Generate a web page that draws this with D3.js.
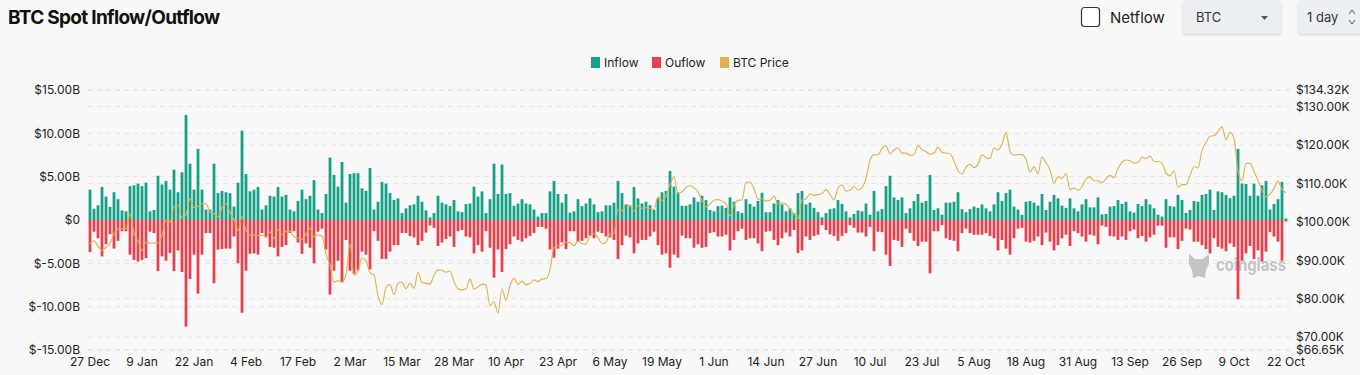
<!DOCTYPE html>
<html>
<head>
<meta charset="utf-8">
<script src="https://cdn.jsdelivr.net/npm/d3@7"></script>
<style>
  body { margin: 0; background: #f8f8f8; font-family: Inter, "Noto Sans", sans-serif; }
  svg { display: block; }
</style>
</head>
<body>
<svg width="1360" height="375"></svg>
<script>
// daily values, 27 Dec 2024 .. 22 Oct 2025
const dates = d3.timeDay.range(new Date(2024, 11, 27), new Date(2025, 9, 23));

const inflow = [
  3.5, 1.3, 1.7, 3.8, 2.7, 1.5, 3.2, 2.4, 1.1, 1.0, 3.9, 4.0, 4.2, 3.9, 4.3, 1.0, 1.15, 5.1, 4.1, 4.5,
  3.5, 5.8, 3.2, 5.5, 12.1, 6.5, 3.5, 8.2, 3.5, 1.2, 1.2, 6.5, 3.1, 3.35, 3.2, 3.1, 1.55, 4.3, 10.3, 5.3,
  3.3, 3.5, 3.8, 1.2, 1.7, 2.8, 2.7, 3.8, 2.7, 2.9, 1.2, 1.0, 2.2, 3.5, 2.4, 2.8, 4.6, 1.2, 0.8, 3.0,
  7.2, 5.2, 3.85, 6.7, 2.0, 5.3, 5.4, 5.4, 3.65, 3.35, 6.0, 1.2, 2.1, 4.4, 4.2, 3.1, 2.3, 2.5, 0.8, 1.35,
  1.7, 1.8, 2.8, 2.1, 1.1, 0.3, 0.8, 2.8, 2.0, 1.8, 1.6, 2.3, 1.0, 0.9, 1.85, 1.9, 3.85, 2.7, 3.3, 0.8,
  2.4, 6.5, 3.0, 6.4, 3.0, 3.1, 1.65, 1.9, 2.4, 1.9, 1.8, 1.2, 0.4, 0.8, 0.8, 3.3, 4.5, 3.0, 2.0, 3.0,
  0.85, 1.0, 2.4, 1.6, 1.9, 2.5, 1.8, 0.9, 1.0, 1.7, 1.7, 2.0, 4.5, 3.1, 1.8, 1.7, 3.8, 2.5, 1.9, 2.1,
  1.7, 1.15, 2.5, 3.2, 3.35, 5.65, 3.85, 3.2, 1.65, 1.65, 1.8, 2.6, 2.1, 2.8, 2.3, 1.15, 1.0, 1.6, 1.65, 1.4,
  2.6, 2.1, 1.0, 0.8, 2.4, 1.85, 1.55, 2.2, 3.15, 0.9, 0.9, 1.9, 2.3, 1.8, 1.0, 1.35, 0.8, 3.1, 3.35, 1.8,
  2.0, 1.4, 0.9, 0.3, 0.8, 1.25, 1.35, 2.3, 1.85, 1.0, 0.3, 0.7, 1.1, 1.0, 1.9, 0.6, 3.35, 1.0, 1.25, 3.9,
  5.1, 2.6, 2.3, 2.6, 0.8, 1.35, 2.2, 3.0, 2.0, 2.2, 5.2, 1.15, 1.35, 0.6, 2.0, 2.0, 2.1, 3.2, 1.25, 0.9,
  1.25, 1.55, 1.4, 1.8, 1.35, 1.0, 1.8, 3.2, 2.2, 3.1, 3.5, 1.55, 1.2, 0.6, 2.1, 2.2, 2.0, 1.65, 3.0, 1.15,
  2.1, 2.9, 2.5, 1.65, 1.4, 2.5, 1.35, 1.0, 1.8, 2.4, 1.45, 1.45, 2.6, 0.65, 0.7, 1.55, 1.6, 2.3, 1.85, 2.1,
  1.0, 0.85, 1.85, 1.6, 2.4, 1.8, 1.35, 0.6, 0.4, 2.4, 1.6, 1.55, 2.9, 2.3, 0.8, 1.15, 2.2, 2.1, 2.9, 3.0,
  3.5, 1.15, 3.3, 3.2, 2.9, 2.5, 2.8, 8.2, 4.2, 4.15, 2.8, 4.2, 2.8, 4.0, 4.5, 1.2, 1.85, 2.4, 4.4, 0.15
];

const outflow = [
  3.7, 1.35, 2.1, 4.2, 2.8, 1.65, 3.3, 2.4, 1.3, 1.3, 4.0, 4.6, 4.8, 4.6, 4.4, 1.35, 1.5, 5.9, 4.2, 4.7,
  3.8, 5.9, 3.5, 6.0, 12.3, 6.8, 4.0, 8.5, 4.0, 1.5, 1.5, 7.3, 3.4, 3.35, 3.3, 3.3, 1.9, 5.0, 10.7, 5.85,
  3.9, 3.85, 4.0, 1.5, 2.0, 3.1, 3.2, 4.2, 3.1, 2.9, 1.5, 1.3, 2.6, 3.9, 2.7, 3.2, 5.0, 1.35, 1.0, 3.4,
  8.6, 5.85, 4.7, 7.2, 2.3, 5.85, 6.2, 5.8, 3.65, 4.0, 5.7, 1.3, 2.4, 4.5, 4.5, 3.65, 2.9, 2.9, 1.5, 1.5,
  1.85, 2.0, 2.9, 2.4, 1.45, 0.65, 0.9, 3.0, 2.6, 2.2, 1.9, 3.1, 1.3, 1.15, 1.9, 2.0, 3.85, 2.9, 3.65, 1.3,
  3.2, 6.65, 3.4, 6.0, 3.35, 2.8, 1.9, 2.3, 2.5, 2.1, 1.85, 1.5, 0.8, 0.8, 1.0, 3.4, 4.35, 3.3, 2.6, 3.35,
  1.3, 1.3, 2.5, 2.4, 2.1, 1.8, 2.1, 1.35, 1.5, 1.9, 2.0, 2.3, 4.5, 2.9, 1.8, 2.0, 3.85, 2.7, 2.3, 2.3,
  1.9, 1.35, 2.9, 4.0, 3.85, 5.5, 4.0, 4.35, 1.8, 2.1, 2.1, 3.2, 2.8, 3.2, 3.1, 1.5, 1.4, 1.9, 1.9, 1.7,
  3.5, 2.3, 1.3, 1.0, 2.3, 2.1, 2.1, 2.7, 3.6, 1.35, 1.3, 2.3, 2.9, 2.1, 1.45, 1.9, 1.15, 3.8, 3.5, 1.9,
  2.3, 1.85, 1.7, 0.6, 1.15, 1.65, 1.85, 2.4, 1.85, 1.5, 0.6, 0.9, 1.45, 1.45, 1.9, 0.8, 3.6, 1.35, 1.4, 4.0,
  5.3, 2.3, 2.4, 3.1, 1.0, 1.5, 2.4, 3.0, 2.5, 2.5, 6.15, 1.3, 1.3, 0.6, 2.1, 2.3, 2.4, 3.6, 1.5, 1.0,
  1.5, 1.7, 1.7, 1.7, 1.5, 1.85, 2.1, 3.5, 2.3, 3.3, 4.0, 2.1, 1.0, 0.9, 2.5, 2.6, 2.4, 1.9, 2.9, 1.45,
  2.5, 3.5, 2.9, 2.1, 1.7, 3.0, 1.3, 1.5, 1.9, 2.5, 1.7, 1.8, 2.8, 0.65, 0.8, 1.85, 1.9, 2.3, 1.9, 2.3,
  1.3, 1.1, 2.1, 1.85, 2.5, 2.0, 1.7, 0.65, 0.65, 3.2, 2.0, 2.0, 3.35, 2.4, 1.0, 1.1, 2.5, 2.5, 2.9, 3.35,
  3.85, 2.1, 3.1, 3.3, 3.6, 2.7, 3.1, 9.15, 4.7, 3.85, 3.0, 4.5, 3.5, 4.8, 3.65, 1.4, 1.9, 2.5, 4.7, 0.15
];

const price = [
  94.2, 95.1, 93.7, 92.6, 93.4,
  94.4, 96.9, 98.1, 98.2, 98.3, 102.1, 96.9, 95.0, 92.5, 94.7, 94.5, 94.5, 94.5, 96.5, 100.5, 99.9, 104.1, 104.4, 101.1, 102.0,
  106.1, 103.7, 104.0, 104.7, 104.7, 102.6, 102.1, 101.3, 103.7, 104.7, 102.4,
  100.6, 97.7, 101.4, 97.9, 96.6, 96.6, 96.5, 96.5, 96.1, 97.4, 95.7, 98.0, 96.6, 97.5, 97.6, 96.1, 95.8, 95.5, 96.6, 98.3,
  96.1, 96.6, 96.3, 91.6, 88.7, 84.3, 84.7, 84.4,
  86.1, 94.3, 86.1, 87.2, 90.6, 89.9, 86.7, 86.2, 80.7, 78.5, 82.9, 83.7, 81.1, 84.0, 84.3, 82.6, 84.1, 82.7, 86.9, 84.2,
  84.0, 83.8, 86.1, 87.5, 87.4, 86.9, 87.2, 84.4, 82.6, 82.3, 82.5,
  85.1, 82.5, 83.1, 83.8, 83.5, 78.2, 79.2, 76.3, 82.6, 79.6, 83.4, 85.3, 83.7, 84.5, 83.6, 84.0, 84.9, 84.5, 85.1, 85.2,
  87.5, 93.4, 93.7, 93.9, 94.7, 94.6, 93.8, 95.0, 94.3, 94.2,
  96.5, 96.9, 95.9, 94.3, 94.7, 96.8, 97.0, 103.2, 102.9, 104.6, 104.1, 102.8, 104.2, 103.5, 103.7, 103.5, 103.2, 106.5, 105.6, 106.8,
  109.7, 111.7, 107.3, 107.8, 109.0, 109.4, 108.9, 107.8, 105.6, 103.9, 104.6,
  105.7, 105.8, 105.4, 104.7, 101.5, 104.4, 105.6, 105.7, 110.3, 110.3, 108.7, 105.9, 106.0, 105.4, 105.6, 106.8, 104.6, 104.9, 104.6, 103.3,
  102.1, 100.9, 105.6, 106.0, 107.3, 106.9, 107.1, 107.3, 108.4, 107.1,
  105.7, 108.8, 109.6, 108.0, 108.2, 109.2, 108.3, 108.9, 111.3, 116.0, 117.5, 117.4, 119.1, 119.8, 117.7, 118.7, 119.3, 117.9, 117.9, 117.3,
  117.4, 119.9, 118.8, 118.3, 117.6, 117.9, 119.4, 118.1, 117.9, 117.8, 115.8,
  113.3, 112.5, 114.2, 115.0, 114.1, 115.0, 117.5, 116.7, 116.5, 119.3, 118.7, 120.2, 123.3, 118.4, 117.4, 117.5, 117.5, 116.3, 112.9, 114.3,
  112.5, 116.9, 115.4, 113.5, 110.1, 111.8, 111.3, 112.6, 108.4, 108.8, 108.2,
  109.2, 111.2, 111.7, 110.7, 110.7, 110.2, 111.2, 112.1, 111.5, 113.9, 115.5, 116.1, 115.9, 115.3, 115.4, 116.8, 116.5, 117.1, 115.7, 115.7,
  115.3, 112.7, 112.0, 113.3, 109.0, 109.7, 109.7, 112.1, 114.4, 114.0,
  118.6, 120.6, 122.3, 122.4, 123.5, 124.8, 121.4, 123.3, 121.7, 113.2, 110.7, 115.2, 115.3, 113.1, 110.8, 108.2, 106.5, 107.2, 108.7, 110.6,
  108.5, 107.6
];

const leftTicks = [15, 10, 5, 0, -5, -10, -15];
const rightTicks = [134.32, 130, 120, 110, 100, 90, 80, 70, 66.65];
const tickLabels = ["27 Dec", "9 Jan", "22 Jan", "4 Feb", "17 Feb", "2 Mar", "15 Mar", "28 Mar", "10 Apr", "23 Apr",
  "6 May", "19 May", "1 Jun", "14 Jun", "27 Jun", "10 Jul", "23 Jul", "5 Aug", "18 Aug", "31 Aug",
  "13 Sep", "26 Sep", "9 Oct", "22 Oct"];

const colInflow = "#16a085";
const colOutflow = "#e8414d";
const colPrice = "#e2b04a";

const svg = d3.select("svg");
const fmtDay = d3.timeFormat("%-d %b");

const x = d3.scaleBand()
  .domain(dates.map(fmtDay))
  .range([88, 1288])
  .paddingInner(0.3)
  .paddingOuter(0.15);
const yL = d3.scaleLinear().domain([-15, 15]).range([350, 90]);
const yR = d3.scaleLinear().domain([66.65, 134.32]).range([350, 90]);

// grid
const grid = svg.append("g");
grid.selectAll("line.gl").data(leftTicks).enter().append("line")
  .attr("x1", 88).attr("x2", 1290)
  .attr("y1", d => yL(d)).attr("y2", d => yL(d))
  .attr("stroke", "#e4e4e4").attr("stroke-dasharray", "5,4");
grid.selectAll("line.gr").data(rightTicks).enter().append("line")
  .attr("x1", 88).attr("x2", 1290)
  .attr("y1", d => yR(d)).attr("y2", d => yR(d))
  .attr("stroke", "#e4e4e4").attr("stroke-dasharray", "5,4");

// left axis
const axL = svg.append("g").attr("transform", "translate(84,0)")
  .call(d3.axisLeft(yL).tickValues(leftTicks).tickSize(0).tickPadding(4)
    .tickFormat(d => d === 0 ? "$0" : `$${d.toFixed(2)}B`));
axL.select(".domain").remove();

// right axis
const axR = svg.append("g").attr("transform", "translate(1292,0)")
  .call(d3.axisRight(yR).tickValues(rightTicks).tickSize(0).tickPadding(4)
    .tickFormat(d => `$${d.toFixed(2)}K`));
axR.select(".domain").remove();

// x axis
const axX = svg.append("g").attr("transform", "translate(0,352)")
  .call(d3.axisBottom(x).tickValues(tickLabels).tickSize(0).tickPadding(5));
axX.select(".domain").remove();

svg.selectAll(".tick text")
  .attr("font-family", "Inter, 'Noto Sans', sans-serif")
  .attr("font-size", 12)
  .attr("fill", "#222");

// watermark (under the bars)
const wm = svg.append("g").attr("fill", "#c4c4c4");
wm.append("path")
  .attr("d", "M1189,254 L1195,259 L1203,259 L1209,254 L1209,264 L1206,270 L1205,278 L1199,276 L1193,278 L1192,270 L1189,264 Z");
wm.append("g").attr("transform", "translate(1216,271) scale(1,1.3)")
  .append("text")
  .attr("font-size", 14).attr("font-weight", 700)
  .attr("textLength", 70).attr("lengthAdjust", "spacingAndGlyphs")
  .text("coinglass");

// bars
const rows = dates.map((d, i) => ({ key: fmtDay(d), inflow: inflow[i], outflow: outflow[i], price: price[i] }));

svg.append("g").selectAll("rect").data(rows).enter().append("rect")
  .attr("x", d => x(d.key))
  .attr("width", x.bandwidth())
  .attr("y", d => yL(d.inflow))
  .attr("height", d => yL(0) - yL(d.inflow))
  .attr("fill", colInflow);

svg.append("g").selectAll("rect").data(rows).enter().append("rect")
  .attr("x", d => x(d.key))
  .attr("width", x.bandwidth())
  .attr("y", yL(0))
  .attr("height", d => yL(-d.outflow) - yL(0))
  .attr("fill", colOutflow);

// price line
svg.append("path")
  .datum(rows)
  .attr("fill", "none")
  .attr("stroke", colPrice)
  .attr("stroke-width", 1.1)
  .attr("d", d3.line()
    .x(d => x(d.key) + x.bandwidth() / 2)
    .y(d => yR(d.price))
    .curve(d3.curveMonotoneX));

// legend
const legend = [
  { name: "Inflow", color: colInflow, x: 591 },
  { name: "Ouflow", color: colOutflow, x: 652 },
  { name: "BTC Price", color: colPrice, x: 720 }
];
const lg = svg.append("g").selectAll("g").data(legend).enter().append("g")
  .attr("transform", d => `translate(${d.x},57)`);
lg.append("rect").attr("width", 9).attr("height", 11).attr("fill", d => d.color);
lg.append("text").attr("x", 13).attr("y", 9.5)
  .attr("font-size", 12).attr("fill", "#222").text(d => d.name);

// header
svg.append("text").attr("x", 8).attr("y", 24)
  .attr("font-size", 19).attr("font-weight", 700)
  .attr("letter-spacing", -0.7)
  .attr("fill", "#111").text("BTC Spot Inflow/Outflow");

svg.append("rect").attr("x", 1081.5).attr("y", 7.5).attr("width", 18).attr("height", 19)
  .attr("rx", 3).attr("fill", "#fff").attr("stroke", "#333").attr("stroke-width", 1.2);
svg.append("text").attr("x", 1110).attr("y", 23)
  .attr("font-size", 15).attr("fill", "#222").text("Netflow");

svg.append("rect").attr("x", 1183).attr("y", 0).attr("width", 98).attr("height", 34)
  .attr("rx", 4).attr("fill", "#eceff2")
  .style("filter", "drop-shadow(0 1px 1px rgba(0,0,0,0.15))");
svg.append("text").attr("x", 1196).attr("y", 22)
  .attr("font-size", 13).attr("fill", "#333").text("BTC");
svg.append("path").attr("d", "M1261,16 L1268,16 L1264.5,20 Z").attr("fill", "#555");

svg.append("rect").attr("x", 1298).attr("y", 0).attr("width", 70).attr("height", 34)
  .attr("rx", 4).attr("fill", "#eceff2")
  .style("filter", "drop-shadow(0 1px 1px rgba(0,0,0,0.15))");
svg.append("text").attr("x", 1307).attr("y", 22)
  .attr("font-size", 13).attr("fill", "#333").text("1 day");
svg.append("path").attr("d", "M1349,14 L1352,10 L1355,14 M1349,20 L1352,24 L1355,20")
  .attr("fill", "none").attr("stroke", "#555").attr("stroke-width", 1);
</script>
</body>
</html>
